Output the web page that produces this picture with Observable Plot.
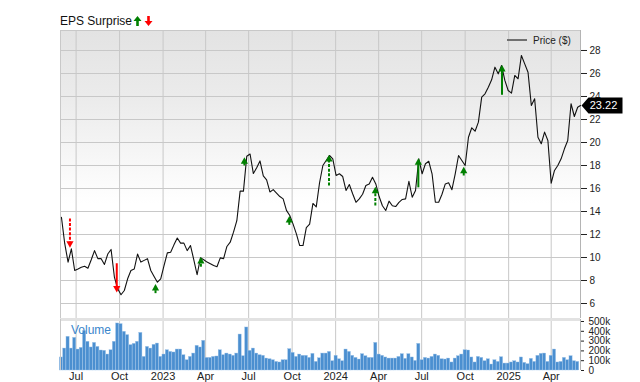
<!DOCTYPE html>
<html>
<head>
<meta charset="utf-8">
<script src="https://cdn.jsdelivr.net/npm/d3@7"></script>
<script src="https://cdn.jsdelivr.net/npm/@observablehq/plot@0.6"></script>
<style>
  html, body { margin: 0; padding: 0; background: #fff; }
  body { font-family: "Liberation Sans", Arial, sans-serif; }
  #wrap { position: relative; width: 640px; height: 382px; overflow: hidden; }
  #wrap > svg, #wrap > figure { position: absolute; left: 0; margin: 0; }
  #title { position: absolute; left: 60px; top: 14px; font-size: 12px; color: #111; line-height: 14px; white-space: nowrap; }
  #title svg { vertical-align: -1px; }
  #legend { position: absolute; left: 507px; top: 34px; font-size: 10px; color: #222; line-height: 14px; white-space: nowrap; }
  #legend .swatch { display: inline-block; width: 20px; height: 2px; background: #707070; vertical-align: 3px; margin-right: 6px; }
</style>
</head>
<body>
<div id="wrap">
  <div id="title">EPS Surprise<svg width="9" height="10" viewBox="0 0 9 10" style="margin-left:1px"><path d="M4.5 0 L8.5 5 L5.8 5 L5.8 10 L3.2 10 L3.2 5 L0.5 5 Z" fill="#008000"/></svg><svg width="9" height="10" viewBox="0 0 9 10" style="margin-left:2px"><path d="M3.2 0 L5.8 0 L5.8 5 L8.5 5 L4.5 10 L0.5 5 L3.2 5 Z" fill="#ff0000"/></svg></div>
  <div id="legend"><span class="swatch"></span>Price ($)</div>
</div>
<script>
// ---------- data ----------
const weekStart = "2022-05-31";           // first weekly observation
const weeklyClose = [
  13.5, 11.2, 9.6, 10.75, 8.87, 9.0, 9.15, 9.24, 9.07, 9.8,
  10.6, 9.9, 9.9, 9.4, 10.3, 10.7, 8.3, 7.28, 6.76, 7.13,
  8.15, 8.87, 9.0, 10.3, 9.6, 9.75, 9.9, 8.87, 8.35, 7.85,
  8.15, 9.3, 10.4, 10.46, 11.1, 11.7, 11.25, 11.25, 10.6, 11.04,
  9.8, 8.5, 9.97, 9.8, 9.6, 9.45, 9.3, 9.2, 9.97, 9.9,
  10.96, 11.33, 12.2, 13.2, 15.77, 15.77, 18.8, 19.0, 17.3, 17.8,
  18.4, 17.1, 16.75, 15.7, 15.9, 15.6, 15.3, 15.1, 14.1, 13.65,
  12.9, 12.06, 11.04, 11.04, 12.6, 12.9, 14.7, 14.4, 16.5, 18.0,
  18.43, 18.87, 18.58, 17.13, 17.28, 17.04, 15.83, 16.35, 15.54, 14.8,
  15.1, 15.5, 16.26, 16.4, 16.98, 16.4, 15.3, 14.5, 14.09, 14.9,
  14.5, 14.43, 14.8, 15.05, 15.1, 16.63, 15.24, 15.83, 18.58, 17.28,
  18.15, 18.37, 17.28, 14.8, 14.8, 15.5, 16.4, 16.5, 15.9, 17.28,
  18.87, 18.43, 18.0, 20.46, 21.28, 20.98, 21.77, 23.94, 24.23, 24.8,
  25.45, 26.55, 25.97, 26.7, 25.4, 24.52, 24.29, 25.83, 25.54, 27.57,
  26.84, 26.11, 23.22, 23.8, 20.46, 19.89, 20.9, 20.17, 16.46, 17.57,
  18.0, 18.58, 19.45, 20.17, 23.37, 22.26, 23.07
];
const lastDate = "2025-06-02";
const lastPrice = 23.22;

// weekly volume, thousands of shares
const weeklyVolume = [
  133, 224, 344, 224, 333, 214, 231, 401, 293, 235,
  282, 241, 204, 201, 163, 207, 293, 480, 473, 395,
  361, 259, 272, 293, 384, 139, 241, 224, 262, 275,
  139, 163, 207, 190, 184, 214, 214, 156, 105, 139,
  173, 252, 235, 303, 129, 129, 139, 143, 207, 156,
  173, 163, 150, 173, 367, 146, 439, 201, 224, 173,
  156, 150, 122, 115, 105, 88, 82, 105, 105, 218,
  180, 139, 163, 150, 150, 129, 170, 88, 125, 173,
  173, 190, 95, 150, 115, 95, 214, 190, 150, 129,
  112, 167, 146, 129, 129, 282, 163, 150, 133, 122,
  122, 122, 139, 167, 119, 167, 133, 98, 272, 105,
  129, 122, 139, 163, 150, 115, 112, 122, 82, 122,
  146, 163, 207, 204, 133, 82, 139, 129, 95, 115,
  61, 105, 88, 136, 71, 71, 82, 95, 82, 133,
  78, 65, 119, 88, 150, 170, 173, 88, 150, 214,
  82, 88, 129, 105, 146, 95, 88
];

// EPS surprise arrows
const surpriseDates  = ["2022-06-18","2022-09-25","2022-12-16","2023-03-22","2023-06-22","2023-09-25","2023-12-18","2024-03-25","2024-06-24","2024-09-28","2024-12-18"];
const surpriseFrom   = [13.4, 9.5, 6.9, 9.2, 18.0, 12.84, 16.26, 14.52, 16.1, 17.13, 24.15];
const surpriseTo     = [10.9, 7.0, 7.65, 10.0, 18.67, 13.57, 18.87, 16.1, 18.58, 17.85, 26.7];
const surpriseBeat   = [false, false, true, true, true, true, true, true, true, true, true];
const surpriseDashed = [true, false, true, true, true, true, true, true, false, true, false];

const xDomain = ["2022-05-29", "2025-06-02"];
const tickDates = ["2022-07-01","2022-10-01","2023-01-01","2023-04-01","2023-07-01","2023-10-01","2024-01-01","2024-04-01","2024-07-01","2024-10-01","2025-01-01","2025-04-01"];
const tickLabels = ["Jul","Oct","2023","Apr","Jul","Oct","2024","Apr","Jul","Oct","2025","Apr"];
const priceTicks = [6, 8, 10, 12, 14, 16, 18, 20, 22, 24, 26, 28];
const priceDomain = [4.696, 29.739];
const volumeTicks = [0, 100, 200, 300, 400, 500];
const volumeDomain = [0, 520.4];

// ---------- build tables ----------
const parse = s => new Date(s + "T00:00:00Z");
const start = parse(weekStart);
const weekDates = weeklyClose.map((_, i) => d3.utcDay.offset(start, 7 * i));
const priceSeries = weeklyClose.map((p, i) => ({date: weekDates[i], price: p}))
  .concat([{date: parse(lastDate), price: lastPrice}]);
const volumeSeries = weeklyVolume.map((v, i) => ({date: weekDates[i], vol: v}));
const arrows = surpriseDates.map((d, i) => ({
  date: parse(d), from: surpriseFrom[i], to: surpriseTo[i],
  beat: surpriseBeat[i], dashed: surpriseDashed[i]
}));
const xDom = xDomain.map(parse);
const ticks = tickDates.map(parse);
const labelMap = new Map(ticks.map((t, i) => [+t, tickLabels[i]]));

const GREEN = "#008000", RED = "#ff0000", GRID = "#c8c8c8";
const font = "'Liberation Sans', Arial, sans-serif";

// custom symbols
const headUp = {draw(ctx) { ctx.moveTo(0, -0.5); ctx.lineTo(3.6, 6); ctx.lineTo(-3.6, 6); ctx.closePath(); }};
const headDown = {draw(ctx) { ctx.moveTo(0, 0.5); ctx.lineTo(3.6, -6); ctx.lineTo(-3.6, -6); ctx.closePath(); }};
const tagShape = {draw(ctx) { ctx.moveTo(1, 0); ctx.lineTo(8, -8); ctx.lineTo(42, -8); ctx.lineTo(42, 8); ctx.lineTo(8, 8); ctx.closePath(); }};

const shaftEnd = d => d.to - (d.beat ? 1 : -1) * 0.45;

// ---------- price panel ----------
const pricePlot = Plot.plot({
  width: 640, height: 318,
  marginTop: 30, marginBottom: 0, marginLeft: 60, marginRight: 60,
  style: {fontFamily: font, fontSize: "10px", color: "#222", background: "transparent", overflow: "visible"},
  x: {type: "utc", domain: xDom, axis: null},
  y: {domain: priceDomain, axis: null},
  marks: [
    Plot.frame({fill: "url(#bgGrad)", stroke: null}),
    Plot.ruleY(priceTicks, {stroke: GRID, strokeWidth: 1}),
    Plot.ruleX(ticks, {stroke: GRID, strokeWidth: 1}),
    Plot.ruleX([xDom[0]], {stroke: GRID}),
    Plot.ruleY([priceDomain[1]], {stroke: GRID}),
    Plot.ruleX([xDom[1]], {stroke: "#b4b4b4"}),
    Plot.axisY(priceTicks, {anchor: "right", tickSize: 6, tickPadding: 3, label: null, fontSize: 10}),
    Plot.lineY(priceSeries, {x: "date", y: "price", stroke: "#111", strokeWidth: 1.1}),
    // arrows shafts
    Plot.link(arrows.filter(d => !d.dashed), {x1: "date", x2: "date", y1: "from", y2: shaftEnd,
      stroke: d => d.beat ? GREEN : RED, strokeWidth: 2}),
    Plot.link(arrows.filter(d => d.dashed), {x1: "date", x2: "date", y1: "from", y2: shaftEnd,
      stroke: d => d.beat ? GREEN : RED, strokeWidth: 2, strokeDasharray: "3,1.6"}),
    // arrow heads
    Plot.dot(arrows.filter(d => d.beat), {x: "date", y: "to", symbol: headUp, r: 4, fill: GREEN, stroke: null}),
    Plot.dot(arrows.filter(d => !d.beat), {x: "date", y: "to", symbol: headDown, r: 4, fill: RED, stroke: null}),
    // last price tag
    Plot.dot([{date: xDom[1], price: lastPrice}], {x: "date", y: "price", symbol: tagShape, r: 4, fill: "#000", stroke: null}),
    Plot.text([{date: xDom[1], price: lastPrice}], {x: "date", y: "price", text: d => d.price.toFixed(2),
      dx: 23, fill: "#fff", fontSize: 11, textAnchor: "middle"})
  ]
});

// gradient background definition
const svgNS = "http://www.w3.org/2000/svg";
const priceSvg = pricePlot.tagName.toLowerCase() === "svg" ? pricePlot : pricePlot.querySelector("svg");
const defs = document.createElementNS(svgNS, "defs");
defs.innerHTML = '<linearGradient id="bgGrad" x1="0" y1="0" x2="0" y2="1">' +
  '<stop offset="0" stop-color="#e3e3e3"/><stop offset="0.25" stop-color="#ececec"/>' +
  '<stop offset="0.6" stop-color="#ffffff"/><stop offset="1" stop-color="#ffffff"/></linearGradient>';
priceSvg.insertBefore(defs, priceSvg.firstChild);
pricePlot.style.top = "0px";

// ---------- volume panel ----------
const volumePlot = Plot.plot({
  width: 640, height: 64,
  marginTop: 1, marginBottom: 12, marginLeft: 60, marginRight: 60,
  style: {fontFamily: font, fontSize: "10px", color: "#222", background: "transparent", overflow: "visible"},
  x: {type: "utc", domain: xDom, axis: null},
  y: {domain: volumeDomain, axis: null},
  marks: [
    Plot.ruleX(ticks, {stroke: GRID, strokeWidth: 1}),
    Plot.rectY(volumeSeries, {
      x1: d => d3.utcHour.offset(d.date, -80), x2: d => d3.utcHour.offset(d.date, 80),
      y: "vol", fill: "#4b8fd0", stroke: "#9dc3e8", strokeWidth: 0.4
    }),
    Plot.ruleY([volumeDomain[1]], {stroke: "#e2e2e2", strokeWidth: 3}),
    Plot.ruleX([xDom[0]], {stroke: GRID}),
    Plot.ruleX([xDom[1]], {stroke: "#b4b4b4"}),
    Plot.axisY(volumeTicks, {anchor: "right", tickSize: 3, tickPadding: 5, label: null, fontSize: 10,
      tickFormat: d => d === 0 ? "0" : d + "k"}),
    Plot.axisX(ticks, {anchor: "bottom", tickSize: 0, tickPadding: 2, label: null, fontSize: 11,
      tickFormat: d => labelMap.get(+d)}),
    Plot.text(["Volume"], {frameAnchor: "top-left", dx: 10.5, dy: 6, fill: "#3a86cc", fontSize: 12})
  ]
});
volumePlot.style.top = "318px";

const wrap = document.getElementById("wrap");
wrap.insertBefore(volumePlot, wrap.firstChild);
wrap.insertBefore(pricePlot, wrap.firstChild);
</script>
</body>
</html>
